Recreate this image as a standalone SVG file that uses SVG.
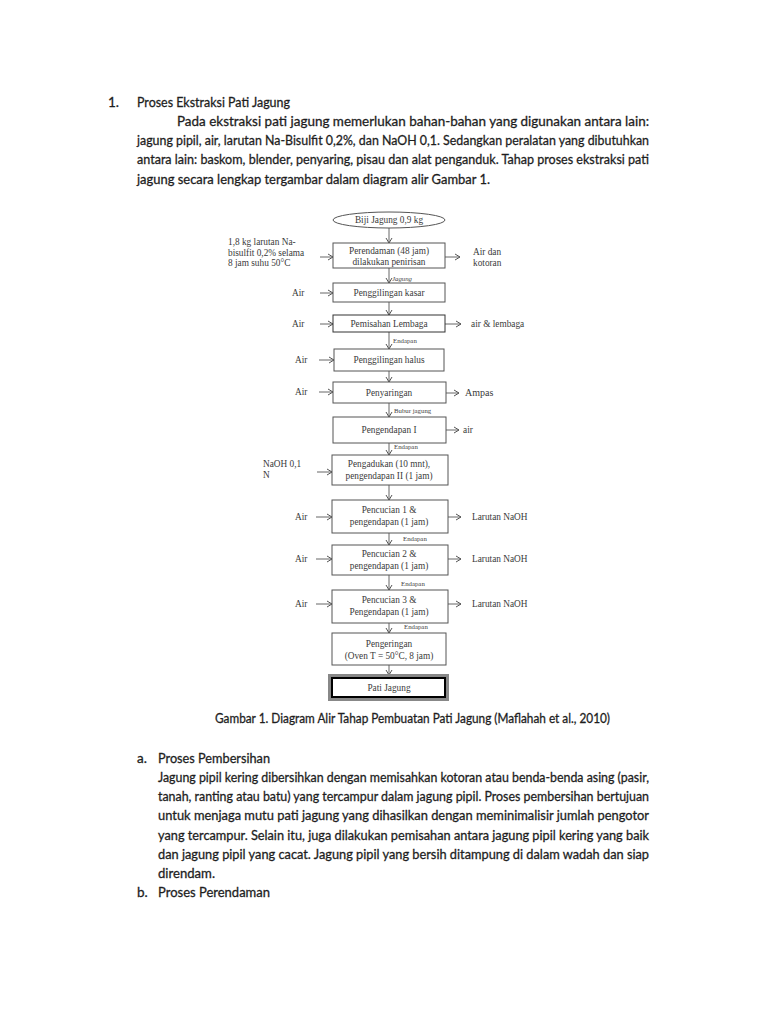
<svg xmlns="http://www.w3.org/2000/svg" width="768" height="1024" viewBox="0 0 768 1024">
<style>
.body{font-family:Lato,"Liberation Sans",sans-serif;font-size:13.5px;fill:#1e1e1e;stroke:#1e1e1e;stroke-width:0.3}
.fc{font-family:"Liberation Serif",serif;font-size:9.3px;fill:#3a3a3a}
.sm{font-family:"Liberation Serif",serif;font-size:6.8px;fill:#444}
.box{fill:#fff;stroke:#555;stroke-width:1}
.ln{stroke:#666;stroke-width:1;fill:none}
</style>
<defs>
<marker id="ah" markerWidth="8" markerHeight="8" refX="6" refY="4" orient="auto" markerUnits="userSpaceOnUse">
<path d="M1,1 L6,4 L1,7" fill="none" stroke="#555" stroke-width="1"/>
</marker>
</defs>
<rect width="768" height="1024" fill="#fff"/>

<g id="text-top">
<text class="body" x="108" y="107">1.</text>
<text class="body" x="137" y="107" textLength="153" lengthAdjust="spacingAndGlyphs">Proses Ekstraksi Pati Jagung</text>
<text class="body" x="177" y="126" textLength="472" lengthAdjust="spacingAndGlyphs">Pada ekstraksi pati jagung memerlukan bahan-bahan  yang digunakan antara lain:</text>
<text class="body" x="137" y="145" textLength="512" lengthAdjust="spacingAndGlyphs">jagung pipil, air, larutan Na-Bisulfit 0,2%, dan NaOH 0,1. Sedangkan peralatan yang  dibutuhkan</text>
<text class="body" x="137" y="164" textLength="512" lengthAdjust="spacingAndGlyphs">antara lain: baskom, blender, penyaring, pisau dan alat penganduk. Tahap proses ekstraksi pati</text>
<text class="body" x="137" y="184" textLength="353" lengthAdjust="spacingAndGlyphs">jagung secara lengkap tergambar dalam diagram alir Gambar 1.</text>
</g>

<g id="connectors">
<line class="ln" x1="389" y1="228" x2="389" y2="243" marker-end="url(#ah)"/>
<line class="ln" x1="389" y1="268" x2="389" y2="283" marker-end="url(#ah)"/>
<line class="ln" x1="389" y1="302" x2="389" y2="315" marker-end="url(#ah)"/>
<line class="ln" x1="389" y1="332" x2="389" y2="349" marker-end="url(#ah)"/>
<line class="ln" x1="389" y1="371" x2="389" y2="382" marker-end="url(#ah)"/>
<line class="ln" x1="389" y1="403" x2="389" y2="417" marker-end="url(#ah)"/>
<line class="ln" x1="389" y1="443" x2="389" y2="455" marker-end="url(#ah)"/>
<line class="ln" x1="389" y1="485" x2="389" y2="500" marker-end="url(#ah)"/>
<line class="ln" x1="389" y1="533" x2="389" y2="545" marker-end="url(#ah)"/>
<line class="ln" x1="389" y1="575" x2="389" y2="590" marker-end="url(#ah)"/>
<line class="ln" x1="389" y1="623" x2="389" y2="633" marker-end="url(#ah)"/>
<line class="ln" x1="389" y1="665" x2="389" y2="675" marker-end="url(#ah)"/>
<line class="ln" x1="320" y1="257" x2="333" y2="257" marker-end="url(#ah)"/>
<line class="ln" x1="320" y1="293" x2="333" y2="293" marker-end="url(#ah)"/>
<line class="ln" x1="320" y1="324" x2="333" y2="324" marker-end="url(#ah)"/>
<line class="ln" x1="319" y1="360" x2="334" y2="360" marker-end="url(#ah)"/>
<line class="ln" x1="319" y1="392" x2="333" y2="392" marker-end="url(#ah)"/>
<line class="ln" x1="317" y1="472" x2="332" y2="472" marker-end="url(#ah)"/>
<line class="ln" x1="316" y1="517" x2="332" y2="517" marker-end="url(#ah)"/>
<line class="ln" x1="316" y1="559" x2="332" y2="559" marker-end="url(#ah)"/>
<line class="ln" x1="316" y1="604" x2="332" y2="604" marker-end="url(#ah)"/>
<line class="ln" x1="445" y1="257" x2="460" y2="257" marker-end="url(#ah)"/>
<line class="ln" x1="445" y1="324" x2="461" y2="324" marker-end="url(#ah)"/>
<line class="ln" x1="446" y1="393" x2="459" y2="393" marker-end="url(#ah)"/>
<line class="ln" x1="446" y1="430" x2="459" y2="430" marker-end="url(#ah)"/>
<line class="ln" x1="448" y1="517" x2="461" y2="517" marker-end="url(#ah)"/>
<line class="ln" x1="448" y1="559" x2="461" y2="559" marker-end="url(#ah)"/>
<line class="ln" x1="448" y1="604" x2="461" y2="604" marker-end="url(#ah)"/>
</g>

<g id="n-biji">
<ellipse cx="389" cy="220" rx="56" ry="8" fill="#fff" stroke="#555"/>
<text class="fc" x="389" y="223" text-anchor="middle">Biji Jagung 0,9 kg</text>
</g>
<g id="n-perendaman">
<rect class="box" x="333" y="243" width="112" height="25"/>
<text class="fc" x="389" y="254" text-anchor="middle">Perendaman (48 jam)</text>
<text class="fc" x="389" y="265" text-anchor="middle">dilakukan penirisan</text>
</g>
<g id="n-kasar">
<rect class="box" x="333" y="283" width="112" height="19"/>
<text class="fc" x="389" y="296" text-anchor="middle">Penggilingan kasar</text>
</g>
<g id="n-lembaga">
<rect class="box" x="333" y="315" width="112" height="17" stroke-width="1.4" style="stroke:#333"/>
<text class="fc" x="389" y="327" text-anchor="middle">Pemisahan Lembaga</text>
</g>
<g id="n-halus">
<rect class="box" x="334" y="349" width="110" height="22"/>
<text class="fc" x="389" y="363" text-anchor="middle">Penggilingan halus</text>
</g>
<g id="n-penyaringan">
<rect class="box" x="333" y="382" width="113" height="21"/>
<text class="fc" x="389" y="396" text-anchor="middle">Penyaringan</text>
</g>
<g id="n-pengendapan1">
<rect class="box" x="333" y="417" width="113" height="26"/>
<text class="fc" x="389" y="433" text-anchor="middle">Pengendapan I</text>
</g>
<g id="n-pengadukan">
<rect class="box" x="332" y="455" width="116" height="30"/>
<text class="fc" x="389" y="467" text-anchor="middle">Pengadukan (10 mnt),</text>
<text class="fc" x="389" y="479" text-anchor="middle">pengendapan II (1 jam)</text>
</g>
<g id="n-pencucian1">
<rect class="box" x="332" y="500" width="116" height="33"/>
<text class="fc" x="389" y="513" text-anchor="middle">Pencucian 1 &amp;</text>
<text class="fc" x="389" y="525" text-anchor="middle">pengendapan (1  jam)</text>
</g>
<g id="n-pencucian2">
<rect class="box" x="332" y="545" width="116" height="30"/>
<text class="fc" x="389" y="557" text-anchor="middle">Pencucian 2 &amp;</text>
<text class="fc" x="389" y="569" text-anchor="middle">pengendapan (1  jam)</text>
</g>
<g id="n-pencucian3">
<rect class="box" x="332" y="590" width="116" height="33"/>
<text class="fc" x="389" y="603" text-anchor="middle">Pencucian 3 &amp;</text>
<text class="fc" x="389" y="615" text-anchor="middle">Pengendapan (1  jam)</text>
</g>
<g id="n-pengeringan">
<rect class="box" x="332" y="633" width="114" height="32"/>
<text class="fc" x="389" y="647" text-anchor="middle">Pengeringan</text>
<text class="fc" x="389" y="659" text-anchor="middle">(Oven T = 50°C, 8 jam)</text>
</g>
<g id="n-pati">
<rect x="329.5" y="675.5" width="118" height="24" fill="#fff" stroke="#888" stroke-width="3"/>
<rect x="332" y="678" width="113" height="19" fill="#fff" stroke="#000" stroke-width="2"/>
<text class="fc" x="389" y="691" text-anchor="middle">Pati Jagung</text>
</g>

<g id="side-labels">
<text class="fc" x="228" y="245">1,8 kg larutan Na-</text>
<text class="fc" x="228" y="256">bisulfit 0,2% selama</text>
<text class="fc" x="228" y="266">8 jam suhu 50°C</text>
<text class="fc" x="473" y="255">Air dan</text>
<text class="fc" x="473" y="266">kotoran</text>
<text class="fc" x="292" y="296">Air</text>
<text class="fc" x="292" y="327">Air</text>
<text class="fc" x="471" y="327">air &amp; lembaga</text>
<text class="fc" x="295" y="363">Air</text>
<text class="fc" x="295" y="395">Air</text>
<text class="fc" x="465" y="396" style="font-size:10px">Ampas</text>
<text class="fc" x="463" y="433">air</text>
<text class="fc" x="263" y="467">NaOH 0,1</text>
<text class="fc" x="263" y="478">N</text>
<text class="fc" x="295" y="520">Air</text>
<text class="fc" x="472" y="520">Larutan NaOH</text>
<text class="fc" x="295" y="562">Air</text>
<text class="fc" x="472" y="562">Larutan NaOH</text>
<text class="fc" x="295" y="607">Air</text>
<text class="fc" x="472" y="607">Larutan NaOH</text>
<text class="sm" x="392" y="281" font-style="italic">Jagung</text>
<text class="sm" x="393" y="343">Endapan</text>
<text class="sm" x="394" y="413">Bubur jagung</text>
<text class="sm" x="394" y="449">Endapan</text>
<text class="sm" x="403" y="541">Endapan</text>
<text class="sm" x="401" y="586">Endapan</text>
<text class="sm" x="404" y="629">Endapan</text>
</g>

<g id="text-bottom">
<text class="body" x="215" y="723" textLength="395" lengthAdjust="spacingAndGlyphs">Gambar 1. Diagram Alir Tahap Pembuatan Pati Jagung (Maflahah et al., 2010)</text>
<text class="body" x="137" y="763">a.</text>
<text class="body" x="158" y="763" textLength="112" lengthAdjust="spacingAndGlyphs">Proses Pembersihan</text>
<text class="body" x="158" y="782" textLength="491" lengthAdjust="spacingAndGlyphs">Jagung pipil kering dibersihkan dengan memisahkan kotoran atau benda-benda asing (pasir,</text>
<text class="body" x="158" y="801" textLength="491" lengthAdjust="spacingAndGlyphs">tanah, ranting atau batu) yang tercampur dalam jagung pipil. Proses pembersihan bertujuan</text>
<text class="body" x="158" y="820" textLength="491" lengthAdjust="spacingAndGlyphs">untuk menjaga mutu pati jagung yang dihasilkan dengan meminimalisir jumlah pengotor</text>
<text class="body" x="158" y="840" textLength="491" lengthAdjust="spacingAndGlyphs">yang tercampur. Selain itu, juga dilakukan pemisahan antara jagung pipil kering yang baik</text>
<text class="body" x="158" y="859" textLength="491" lengthAdjust="spacingAndGlyphs">dan jagung pipil yang cacat. Jagung pipil yang bersih ditampung di dalam wadah dan siap</text>
<text class="body" x="158" y="878" textLength="57" lengthAdjust="spacingAndGlyphs">direndam.</text>
<text class="body" x="137" y="897">b.</text>
<text class="body" x="158" y="897" textLength="112" lengthAdjust="spacingAndGlyphs">Proses Perendaman</text>
</g>
</svg>
